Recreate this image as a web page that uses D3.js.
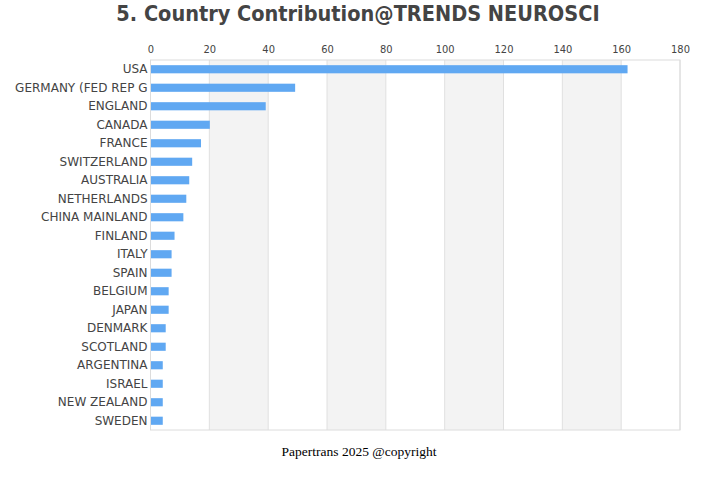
<!DOCTYPE html>
<html>
<head>
<meta charset="utf-8">
<script src="https://cdn.jsdelivr.net/npm/d3@7"></script>
<style>
  body { margin: 0; background: #fff; }
  svg { display: block; }
</style>
</head>
<body>
<div id="chart"></div>
<script>
// country contribution chart
const countries = ["USA", "GERMANY (FED REP G", "ENGLAND", "CANADA", "FRANCE", "SWITZERLAND",
  "AUSTRALIA", "NETHERLANDS", "CHINA MAINLAND", "FINLAND", "ITALY", "SPAIN", "BELGIUM",
  "JAPAN", "DENMARK", "SCOTLAND", "ARGENTINA", "ISRAEL", "NEW ZEALAND", "SWEDEN"];
const counts = [162, 49, 39, 20, 17, 14, 13, 12, 11, 8, 7, 7, 6, 6, 5, 5, 4, 4, 4, 4];
const xTicks = [0, 20, 40, 60, 80, 100, 120, 140, 160, 180];

const width = 720;
const height = 480;
const margin = { top: 60, right: 40, bottom: 50, left: 150.5 };

const barColor = "#60a8f2";
const textColor = "#444";

const svg = d3.select("#chart").append("svg")
    .attr("width", width)
    .attr("height", height);

const x = d3.scaleLinear().domain([0, 180]).range([margin.left, width - margin.right]);
const y = d3.scaleBand().domain(countries)
    .range([margin.top, height - margin.bottom])
    .paddingInner(0.56).paddingOuter(0.28);

// alternating bands
const bands = d3.range(1, xTicks.length - 1, 2);
svg.append("g").selectAll("rect")
    .data(bands)
    .join("rect")
    .attr("x", i => x(xTicks[i]))
    .attr("y", margin.top)
    .attr("width", i => x(xTicks[i + 1]) - x(xTicks[i]))
    .attr("height", height - margin.bottom - margin.top)
    .attr("fill", "#f3f3f3");

// grid lines
svg.append("g").selectAll("line")
    .data(xTicks)
    .join("line")
    .attr("x1", d => x(d)).attr("x2", d => x(d))
    .attr("y1", margin.top).attr("y2", height - margin.bottom)
    .attr("stroke", "#e0e0e0");

// frame
svg.append("rect")
    .attr("x", margin.left)
    .attr("y", margin.top)
    .attr("width", x(180) - x(0))
    .attr("height", height - margin.bottom - margin.top)
    .attr("fill", "none")
    .attr("stroke", "#dcdcdc");

// bars
svg.append("g").selectAll("rect")
    .data(countries)
    .join("rect")
    .attr("x", x(0) + 0.5)
    .attr("y", d => y(d))
    .attr("width", (d, i) => x(counts[i]) - x(0))
    .attr("height", y.bandwidth())
    .attr("fill", barColor);

// top axis
const xAxis = svg.append("g")
    .attr("transform", `translate(0,${margin.top})`)
    .call(d3.axisTop(x).tickValues(xTicks).tickSize(0).tickPadding(7));
xAxis.select(".domain").remove();
xAxis.selectAll("text")
    .attr("fill", textColor)
    .style("font-family", "'DejaVu Sans Condensed', 'DejaVu Sans', sans-serif")
    .style("font-size", "11px");

// category labels
const yAxis = svg.append("g")
    .attr("transform", `translate(${margin.left},0)`)
    .call(d3.axisLeft(y).tickSize(0).tickPadding(3));
yAxis.select(".domain").remove();
yAxis.selectAll("text")
    .attr("fill", textColor)
    .style("font-family", "'DejaVu Sans', sans-serif")
    .style("font-size", "12px");

// title
svg.append("text")
    .attr("x", 358)
    .attr("y", 21)
    .attr("text-anchor", "middle")
    .attr("fill", textColor)
    .style("font-family", "'DejaVu Sans Condensed', 'DejaVu Sans', sans-serif")
    .style("font-weight", "bold")
    .style("font-size", "21.5px")
    .text("5. Country Contribution@TRENDS NEUROSCI");

// footer
svg.append("text")
    .attr("x", 359)
    .attr("y", 456)
    .attr("text-anchor", "middle")
    .attr("fill", "#000")
    .style("font-family", "'Liberation Serif', 'Times New Roman', serif")
    .style("font-size", "13.5px")
    .text("Papertrans 2025 @copyright");
</script>
</body>
</html>
